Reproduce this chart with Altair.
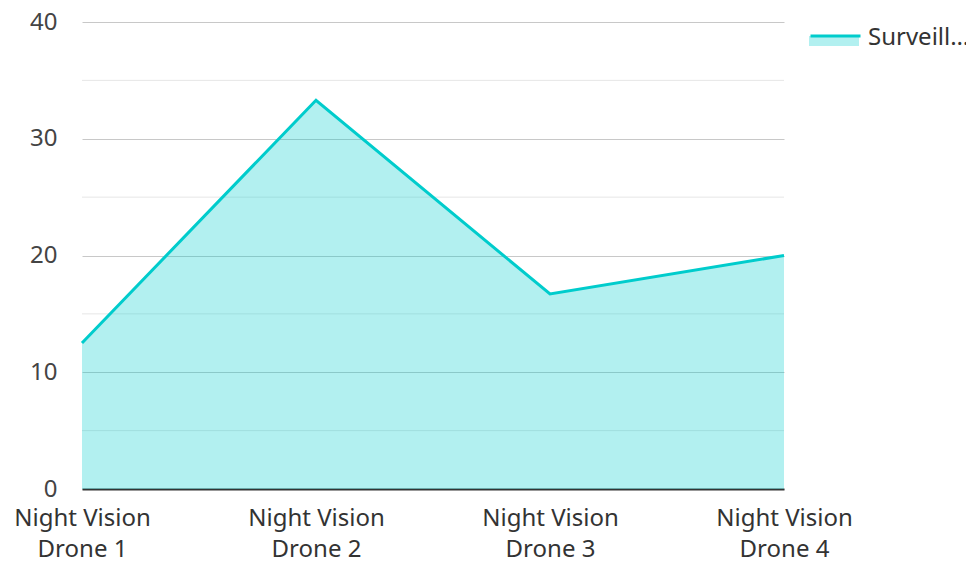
import altair as alt
import pandas as pd

categories = ["Night Vision Drone 1", "Night Vision Drone 2", "Night Vision Drone 3", "Night Vision Drone 4"]
values = [12.5, 33.3, 16.7, 20.0]
series_name = "Surveillance Capability"
major_ticks = [0, 10, 20, 30, 40]
minor_ticks = [5, 15, 25, 35]

FONT = "Noto Sans"
TEAL = "#00cccc"
FS = 24

df = pd.DataFrame({"drone": categories, "value": values, "series": [series_name] * len(categories)})
grid_df = pd.DataFrame({"v": minor_ticks})

x_enc = alt.X(
    "drone:N",
    sort=categories,
    scale=alt.Scale(type="point", padding=0),
    axis=alt.Axis(
        title=None, labelAngle=0, ticks=False, grid=False,
        domain=True, domainColor="#333333", domainWidth=2,
        labelExpr="[substring(datum.label,0,12), substring(datum.label,13)]",
        labelFont=FONT, labelFontSize=FS, labelColor="#333333",
        labelLineHeight=31, labelPadding=17,
    ),
)
y_scale = alt.Scale(domain=[0, 40], nice=False)
y_axis = alt.Axis(
    title=None, values=major_ticks, ticks=False, domain=False,
    grid=True, gridColor="#c8c8c8", gridWidth=1,
    labelFont=FONT, labelFontSize=FS, labelColor="#444444", labelPadding=25,
)

minor = alt.Chart(grid_df).mark_rule(color="#e6e6e6", strokeWidth=1).encode(
    y=alt.Y("v:Q", scale=y_scale, axis=y_axis)
)

area = alt.Chart(df).mark_area(fillOpacity=0.3).encode(
    x=x_enc,
    y=alt.Y("value:Q", scale=y_scale, axis=y_axis),
    fill=alt.Fill(
        "series:N",
        scale=alt.Scale(range=[TEAL]),
        legend=alt.Legend(
            title=None, orient="none", legendX=727, legendY=-9, padding=0,
            symbolType="M-1,-0.08 L1,-0.08 L1,0.32 L-1,0.32 Z",
            symbolSize=2500, symbolOpacity=0.3, symbolStrokeWidth=0,
            labelFont=FONT, labelFontSize=FS, labelColor="#333333",
            labelLimit=106, labelOffset=9,
        ),
    ),
)

line = alt.Chart(df).mark_line(strokeWidth=3).encode(
    x=x_enc,
    y=alt.Y("value:Q", scale=y_scale, axis=y_axis),
    stroke=alt.Stroke(
        "series:N",
        scale=alt.Scale(range=[TEAL]),
        legend=alt.Legend(
            title=None, orient="none", legendX=727, legendY=-9, padding=0,
            symbolType="M-1,-0.14 L1,-0.14",
            symbolSize=2500, symbolStrokeWidth=3, symbolStrokeColor=TEAL,
            labelFont=FONT, labelFontSize=FS, labelOpacity=0,
            labelLimit=106, labelOffset=9,
        ),
    ),
)

chart = (
    alt.layer(minor, area, line)
    .resolve_scale(fill="independent", stroke="independent")
    .properties(
        width=702, height=467,
        autosize=alt.AutoSizeParams(type="none"),
        padding={"left": 74, "top": 14, "right": 182, "bottom": 72},
    )
    .configure(font=FONT)
    .configure_view(strokeWidth=0, stroke="transparent")
)

chart.save("out.html", embed_options={"renderer": "svg", "actions": False})
